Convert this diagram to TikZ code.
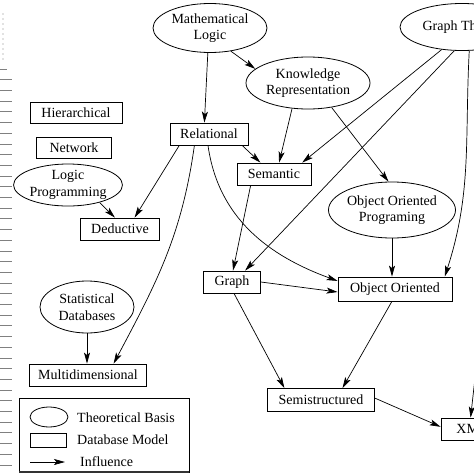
\documentclass[tikz,border=0pt]{standalone}
\usepackage{fontspec}
\setmainfont{Liberation Serif}
\usetikzlibrary{shapes.geometric,arrows.meta}
\begin{document}
\begin{tikzpicture}[x=1pt,y=-1pt,
  every node/.style={font=\fontsize{14}{16.5}\selectfont},
  model/.style={draw,rectangle,inner sep=0pt,line width=0.8pt},
  theory/.style={draw,ellipse,inner sep=0pt,align=center,line width=0.8pt},
  infl/.style={-{Stealth[length=11pt,width=6pt,inset=2.5pt]},line width=0.7pt},
  legtext/.style={anchor=west,inner sep=0pt},
  tick/.style={gray,line width=0.8pt}]
\useasboundingbox (0,0) rectangle (474,474);
\clip (0,0) rectangle (474,474);
% side scale
\foreach \i in {0,...,9} \fill[gray] (3,{14+\i*5}) circle (0.6pt);
\draw[tick] (0,69) -- (7,69);
\foreach \i in {1,...,37} \draw[tick] (0,{69+\i*10.7}) -- (12,{69+\i*10.7});
% nodes
\node[theory,minimum width=114pt,minimum height=49pt] (ml) at (210,28) {Mathematical\\Logic};
\node[theory,minimum width=124pt,minimum height=52pt] (kr) at (308,83) {Knowledge\\Representation};
\node[theory,minimum width=124pt,minimum height=47pt] (gt) at (462,27) {Graph Theory};
\node[model,minimum width=78pt,minimum height=22pt] (rel) at (209,134) {Relational};
\node[model,minimum width=92pt,minimum height=21pt] (hier) at (76,113) {Hierarchical};
\node[model,minimum width=75pt,minimum height=21pt] (net) at (74,148) {Network};
\node[theory,minimum width=100pt,minimum height=42pt] (lp) at (68,185) {Logic\\Programming};
\node[model,minimum width=79pt,minimum height=22pt] (ded) at (120,229) {Deductive};
\node[model,minimum width=74pt,minimum height=22pt] (sem) at (274,174) {Semantic};
\node[theory,minimum width=127pt,minimum height=56pt] (oop) at (392,210) {Object Oriented\\Programing};
\node[model,minimum width=57pt,minimum height=22pt] (graph) at (232,282) {Graph};
\node[model,minimum width=114pt,minimum height=24pt] (oo) at (395,289) {Object Oriented};
\node[theory,minimum width=94pt,minimum height=52pt] (sd) at (87,307) {Statistical\\Databases};
\node[model,minimum width=117pt,minimum height=22pt] (md) at (88,375) {Multidimensional};
\node[model,minimum width=107pt,minimum height=23pt] (semi) at (321,400) {Semistructured};
\node[model,minimum width=62pt,minimum height=22pt] (xml) at (472,429) {XML};
\coordinate (offr) at (477,360);
% connectors
\draw[infl] (ml.-95) -- (rel.112);
\draw[infl] (ml.-48) -- (kr.165);
\draw[infl] (kr.-122) -- (sem.66);
\draw[infl] (kr.-46) -- (oop.97);
\draw[infl] (gt.-132) -- (sem.22);
\draw[infl] (gt.-108) -- (graph.41);
\draw[infl] (gt.-73) to[out=-93,in=72] (oo.14);
\draw[infl] (rel.-19.5) -- (sem.140);
\draw[infl] (rel.-159) -- (ded.38);
\draw[infl] (lp.-29.5) -- (ded.114);
\draw[infl] (rel.-142) to[out=-98,in=62] (md.24);
\draw[infl] (rel.-95) to[out=-82,in=160] (oo.172);
\draw[infl] (sem.-154) -- (graph.85);
\draw[infl] (graph.0) -- (oo.-177);
\draw[infl] (graph.-80) -- (semi.162);
\draw[infl] (oo.-104) -- (semi.29);
\draw[infl] (oop.south) -- (oop.south |- oo.north);
\draw[infl] (semi.2) -- (xml.176);
\draw[infl] (sd.south) -- (sd.south |- md.north);
\draw[infl] (offr) -- (xml.97);
% legend
\draw[line width=0.8pt] (19,398) rectangle (189,472);
\draw[line width=1.6pt,black!80] (19,472) -- (189,472);
\node[theory,minimum width=38pt,minimum height=20pt] (lge) at (49,417) {};
\node[legtext] (lget) at (77,418) {Theoretical Basis};
\node[model,minimum width=36pt,minimum height=14pt] (lgr) at (48,440) {};
\node[legtext] (lgrt) at (77,440) {Database Model};
\coordinate (lga) at (30,462);
\coordinate (lgb) at (65,462);
\draw[infl] (lga) -- (lgb);
\node[legtext] (lgat) at (80,462) {Influence};
\end{tikzpicture}
\end{document}
